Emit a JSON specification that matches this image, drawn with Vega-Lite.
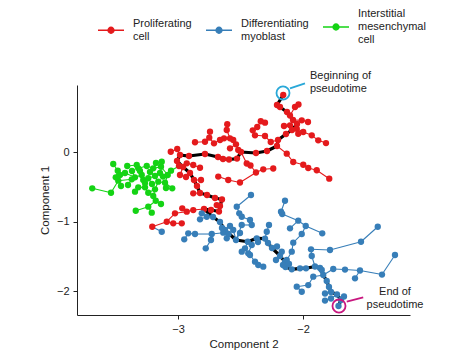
{
  "$schema": "https://vega.github.io/schema/vega-lite/v6.json",
  "width": 333,
  "height": 230,
  "autosize": "none",
  "padding": {"left": 77, "top": 85, "right": 64, "bottom": 49},
  "config": {
    "font": "Liberation Sans",
    "view": {"stroke": null},
    "axis": {"domainColor": "#222", "tickColor": "#222", "labelColor": "#222", "titleColor": "#222", "labelFontSize": 11, "titleFontSize": 11.5, "titleFontWeight": "normal", "grid": false, "tickSize": 4, "labelFont": "Liberation Sans", "titleFont": "Liberation Sans"},
    "axisX": {"labelPadding": 4, "titlePadding": 4},
    "axisY": {"labelPadding": 4, "titlePadding": 6},
    "legend": {"padding": 0}
  },
  "datasets": {
    "cells": [
      {"x":-2.158,"y":0.820,"t":"P"},
      {"x":-2.208,"y":0.676,"x2":-2.158,"y2":0.820,"t":"P"},
      {"x":-2.184,"y":0.647,"x2":-2.208,"y2":0.676,"t":"P"},
      {"x":-2.128,"y":0.576,"x2":-2.184,"y2":0.647,"t":"P"},
      {"x":-2.104,"y":0.525,"x2":-2.128,"y2":0.576,"t":"P"},
      {"x":-2.064,"y":0.647,"x2":-2.104,"y2":0.525,"t":"P"},
      {"x":-2.036,"y":0.683,"x2":-2.064,"y2":0.647,"t":"P"},
      {"x":-2.080,"y":0.460,"x2":-2.104,"y2":0.525,"t":"P"},
      {"x":-2.010,"y":0.456,"x2":-2.080,"y2":0.460,"t":"P"},
      {"x":-1.960,"y":0.432,"x2":-2.010,"y2":0.456,"t":"P"},
      {"x":-2.104,"y":0.384,"x2":-2.080,"y2":0.460,"t":"P"},
      {"x":-2.050,"y":0.335,"x2":-2.104,"y2":0.384,"t":"P"},
      {"x":-1.998,"y":0.288,"x2":-2.050,"y2":0.335,"t":"P"},
      {"x":-2.038,"y":0.263,"x2":-2.050,"y2":0.335,"t":"P"},
      {"x":-1.930,"y":0.240,"x2":-1.998,"y2":0.288,"t":"P"},
      {"x":-1.878,"y":0.168,"x2":-1.930,"y2":0.240,"t":"P"},
      {"x":-1.816,"y":0.129,"x2":-1.878,"y2":0.168,"t":"P"},
      {"x":-2.048,"y":0.403,"x2":-2.080,"y2":0.460,"t":"P"},
      {"x":-2.088,"y":0.317,"x2":-2.048,"y2":0.403,"t":"P"},
      {"x":-2.136,"y":0.259,"x2":-2.088,"y2":0.317,"t":"P"},
      {"x":-2.200,"y":0.173,"x2":-2.136,"y2":0.259,"t":"P"},
      {"x":-2.208,"y":0.086,"x2":-2.200,"y2":0.173,"t":"P"},
      {"x":-2.288,"y":0.014,"x2":-2.208,"y2":0.086,"t":"P"},
      {"x":-2.376,"y":-0.014,"x2":-2.288,"y2":0.014,"t":"P"},
      {"x":-2.496,"y":0.000,"x2":-2.376,"y2":-0.014,"t":"P"},
      {"x":-2.528,"y":-0.094,"x2":-2.496,"y2":0.000,"t":"P"},
      {"x":-2.592,"y":-0.108,"x2":-2.528,"y2":-0.094,"t":"P"},
      {"x":-2.640,"y":-0.101,"x2":-2.592,"y2":-0.108,"t":"P"},
      {"x":-2.680,"y":-0.072,"x2":-2.640,"y2":-0.101,"t":"P"},
      {"x":-2.784,"y":-0.029,"x2":-2.680,"y2":-0.072,"t":"P"},
      {"x":-2.912,"y":-0.058,"x2":-2.784,"y2":-0.029,"t":"P"},
      {"x":-2.984,"y":-0.043,"x2":-2.912,"y2":-0.058,"t":"P"},
      {"x":-3.008,"y":-0.129,"x2":-2.984,"y2":-0.043,"t":"P"},
      {"x":-2.960,"y":-0.216,"x2":-3.008,"y2":-0.129,"t":"P"},
      {"x":-2.904,"y":-0.302,"x2":-2.960,"y2":-0.216,"t":"P"},
      {"x":-2.872,"y":-0.403,"x2":-2.904,"y2":-0.302,"t":"P"},
      {"x":-2.848,"y":-0.489,"x2":-2.872,"y2":-0.403,"t":"P"},
      {"x":-2.824,"y":-0.590,"x2":-2.848,"y2":-0.489,"t":"P"},
      {"x":-2.768,"y":-0.619,"x2":-2.824,"y2":-0.590,"t":"P"},
      {"x":-2.704,"y":-0.662,"x2":-2.768,"y2":-0.619,"t":"P"},
      {"x":-2.648,"y":-0.683,"x2":-2.704,"y2":-0.662,"t":"P"},
      {"x":-2.664,"y":-0.777,"x2":-2.648,"y2":-0.683,"t":"P"},
      {"x":-2.672,"y":-0.856,"x2":-2.664,"y2":-0.777,"t":"P"},
      {"x":-2.736,"y":-0.834,"x2":-2.672,"y2":-0.856,"t":"P"},
      {"x":-2.792,"y":-0.820,"x2":-2.736,"y2":-0.834,"t":"P"},
      {"x":-2.130,"y":-0.024,"x2":-2.208,"y2":0.086,"t":"P"},
      {"x":-2.078,"y":-0.144,"x2":-2.130,"y2":-0.024,"t":"P"},
      {"x":-1.998,"y":-0.183,"x2":-2.078,"y2":-0.144,"t":"P"},
      {"x":-1.958,"y":-0.230,"x2":-1.998,"y2":-0.183,"t":"P"},
      {"x":-1.890,"y":-0.263,"x2":-1.958,"y2":-0.230,"t":"P"},
      {"x":-1.790,"y":-0.384,"x2":-1.890,"y2":-0.263,"t":"P"},
      {"x":-2.258,"y":0.144,"x2":-2.200,"y2":0.173,"t":"P"},
      {"x":-2.304,"y":0.230,"x2":-2.258,"y2":0.144,"t":"P"},
      {"x":-2.384,"y":0.240,"x2":-2.304,"y2":0.230,"t":"P"},
      {"x":-2.402,"y":0.312,"x2":-2.384,"y2":0.240,"t":"P"},
      {"x":-2.366,"y":0.360,"x2":-2.402,"y2":0.312,"t":"P"},
      {"x":-2.338,"y":0.442,"x2":-2.366,"y2":0.360,"t":"P"},
      {"x":-2.304,"y":0.422,"x2":-2.338,"y2":0.442,"t":"P"},
      {"x":-2.152,"y":0.374,"x2":-2.104,"y2":0.384,"t":"P"},
      {"x":-2.450,"y":-0.165,"x2":-2.496,"y2":0.000,"t":"P"},
      {"x":-2.420,"y":-0.194,"x2":-2.450,"y2":-0.165,"t":"P"},
      {"x":-2.376,"y":-0.295,"x2":-2.420,"y2":-0.194,"t":"P"},
      {"x":-2.318,"y":-0.249,"x2":-2.376,"y2":-0.295,"t":"P"},
      {"x":-2.238,"y":-0.237,"x2":-2.318,"y2":-0.249,"t":"P"},
      {"x":-2.504,"y":-0.439,"x2":-2.376,"y2":-0.295,"t":"P"},
      {"x":-2.598,"y":-0.403,"x2":-2.504,"y2":-0.439,"t":"P"},
      {"x":-2.678,"y":-0.353,"x2":-2.598,"y2":-0.403,"t":"P"},
      {"x":-2.518,"y":0.029,"x2":-2.496,"y2":0.000,"t":"P"},
      {"x":-2.536,"y":0.111,"x2":-2.518,"y2":0.029,"t":"P"},
      {"x":-2.558,"y":0.173,"x2":-2.536,"y2":0.111,"t":"P"},
      {"x":-2.584,"y":0.197,"x2":-2.558,"y2":0.173,"t":"P"},
      {"x":-2.610,"y":0.317,"x2":-2.584,"y2":0.197,"t":"P"},
      {"x":-2.606,"y":0.399,"x2":-2.610,"y2":0.317,"t":"P"},
      {"x":-2.632,"y":0.197,"x2":-2.584,"y2":0.197,"t":"P"},
      {"x":-2.664,"y":0.173,"x2":-2.632,"y2":0.197,"t":"P"},
      {"x":-2.712,"y":0.125,"x2":-2.664,"y2":0.173,"t":"P"},
      {"x":-2.750,"y":0.206,"x2":-2.712,"y2":0.125,"t":"P"},
      {"x":-2.744,"y":0.292,"x2":-2.750,"y2":0.206,"t":"P"},
      {"x":-2.784,"y":0.148,"x2":-2.750,"y2":0.206,"t":"P"},
      {"x":-2.864,"y":0.140,"x2":-2.784,"y2":0.148,"t":"P"},
      {"x":-2.584,"y":0.053,"x2":-2.536,"y2":0.111,"t":"P"},
      {"x":-3.006,"y":0.043,"x2":-2.984,"y2":-0.043,"t":"P"},
      {"x":-3.058,"y":0.004,"x2":-3.006,"y2":0.043,"t":"P"},
      {"x":-2.930,"y":-0.163,"x2":-2.960,"y2":-0.216,"t":"P"},
      {"x":-2.878,"y":-0.187,"x2":-2.930,"y2":-0.163,"t":"P"},
      {"x":-2.824,"y":-0.226,"x2":-2.878,"y2":-0.187,"t":"P"},
      {"x":-2.984,"y":-0.331,"x2":-2.960,"y2":-0.216,"t":"P"},
      {"x":-2.936,"y":-0.360,"x2":-2.904,"y2":-0.302,"t":"P"},
      {"x":-2.816,"y":-0.403,"x2":-2.872,"y2":-0.403,"t":"P"},
      {"x":-2.992,"y":-0.201,"x2":-3.008,"y2":-0.129,"t":"P"},
      {"x":-2.878,"y":-0.835,"x2":-2.792,"y2":-0.820,"t":"P"},
      {"x":-2.930,"y":-0.859,"x2":-2.878,"y2":-0.835,"t":"P"},
      {"x":-2.966,"y":-0.810,"x2":-2.930,"y2":-0.859,"t":"P"},
      {"x":-3.024,"y":-0.882,"x2":-2.930,"y2":-0.859,"t":"P"},
      {"x":-3.090,"y":-1.003,"x2":-3.024,"y2":-0.882,"t":"P"},
      {"x":-3.206,"y":-1.075,"x2":-3.090,"y2":-1.003,"t":"P"},
      {"x":-3.038,"y":-1.026,"x2":-3.090,"y2":-1.003,"t":"P"},
      {"x":-2.970,"y":-1.026,"x2":-3.038,"y2":-1.026,"t":"P"},
      {"x":-2.690,"y":-0.763,"x2":-2.664,"y2":-0.777,"t":"P"},
      {"x":-2.878,"y":-0.594,"x2":-2.824,"y2":-0.590,"t":"P"},

      {"x":-3.056,"y":-0.269,"x2":-2.992,"y2":-0.201,"t":"I"},
      {"x":-3.082,"y":-0.331,"x2":-3.056,"y2":-0.269,"t":"I"},
      {"x":-3.136,"y":-0.212,"x2":-3.082,"y2":-0.331,"t":"I"},
      {"x":-3.130,"y":-0.140,"x2":-3.136,"y2":-0.212,"t":"I"},
      {"x":-3.198,"y":-0.235,"x2":-3.136,"y2":-0.212,"t":"I"},
      {"x":-3.250,"y":-0.201,"x2":-3.198,"y2":-0.235,"t":"I"},
      {"x":-3.318,"y":-0.235,"x2":-3.250,"y2":-0.201,"t":"I"},
      {"x":-3.330,"y":-0.187,"x2":-3.318,"y2":-0.235,"t":"I"},
      {"x":-3.406,"y":-0.201,"x2":-3.330,"y2":-0.187,"t":"I"},
      {"x":-3.104,"y":-0.442,"x2":-3.082,"y2":-0.331,"t":"I"},
      {"x":-3.158,"y":-0.427,"x2":-3.104,"y2":-0.442,"t":"I"},
      {"x":-3.184,"y":-0.345,"x2":-3.158,"y2":-0.427,"t":"I"},
      {"x":-3.238,"y":-0.378,"x2":-3.184,"y2":-0.345,"t":"I"},
      {"x":-3.278,"y":-0.403,"x2":-3.238,"y2":-0.378,"t":"I"},
      {"x":-3.290,"y":-0.331,"x2":-3.278,"y2":-0.403,"t":"I"},
      {"x":-3.344,"y":-0.364,"x2":-3.290,"y2":-0.331,"t":"I"},
      {"x":-3.370,"y":-0.393,"x2":-3.344,"y2":-0.364,"t":"I"},
      {"x":-3.478,"y":-0.413,"x2":-3.370,"y2":-0.393,"t":"I"},
      {"x":-3.498,"y":-0.364,"x2":-3.478,"y2":-0.413,"t":"I"},
      {"x":-3.482,"y":-0.269,"x2":-3.498,"y2":-0.364,"t":"I"},
      {"x":-3.518,"y":-0.173,"x2":-3.482,"y2":-0.269,"t":"I"},
      {"x":-3.536,"y":-0.586,"x2":-3.478,"y2":-0.413,"t":"I"},
      {"x":-3.686,"y":-0.522,"x2":-3.536,"y2":-0.586,"t":"I"},
      {"x":-3.046,"y":-0.522,"x2":-3.104,"y2":-0.442,"t":"I"},
      {"x":-3.184,"y":-0.537,"x2":-3.158,"y2":-0.427,"t":"I"},
      {"x":-3.238,"y":-0.586,"x2":-3.184,"y2":-0.537,"t":"I"},
      {"x":-3.264,"y":-0.508,"x2":-3.238,"y2":-0.586,"t":"I"},
      {"x":-3.318,"y":-0.508,"x2":-3.264,"y2":-0.508,"t":"I"},
      {"x":-3.344,"y":-0.571,"x2":-3.318,"y2":-0.508,"t":"I"},
      {"x":-3.198,"y":-0.633,"x2":-3.184,"y2":-0.537,"t":"I"},
      {"x":-3.178,"y":-0.701,"x2":-3.198,"y2":-0.633,"t":"I"},
      {"x":-3.136,"y":-0.748,"x2":-3.178,"y2":-0.701,"t":"I"},
      {"x":-3.238,"y":-0.787,"x2":-3.178,"y2":-0.701,"t":"I"},
      {"x":-3.338,"y":-0.845,"x2":-3.238,"y2":-0.787,"t":"I"},
      {"x":-3.210,"y":-0.873,"x2":-3.238,"y2":-0.787,"t":"I"},
      {"x":-3.424,"y":-0.302,"x2":-3.344,"y2":-0.364,"t":"I"},
      {"x":-3.304,"y":-0.273,"x2":-3.290,"y2":-0.331,"t":"I"},
      {"x":-3.224,"y":-0.288,"x2":-3.184,"y2":-0.345,"t":"I"},
      {"x":-3.144,"y":-0.302,"x2":-3.184,"y2":-0.345,"t":"I"},
      {"x":-3.208,"y":-0.460,"x2":-3.238,"y2":-0.378,"t":"I"},
      {"x":-3.400,"y":-0.475,"x2":-3.370,"y2":-0.393,"t":"I"},
      {"x":-3.120,"y":-0.353,"x2":-3.082,"y2":-0.331,"t":"I"},
      {"x":-3.096,"y":-0.518,"x2":-3.104,"y2":-0.442,"t":"I"},
      {"x":-3.264,"y":-0.446,"x2":-3.278,"y2":-0.403,"t":"I"},
      {"x":-3.456,"y":-0.489,"x2":-3.478,"y2":-0.413,"t":"I"},
      {"x":-3.368,"y":-0.273,"x2":-3.344,"y2":-0.364,"t":"I"},
      {"x":-3.464,"y":-0.331,"x2":-3.498,"y2":-0.364,"t":"I"},
      {"x":-3.176,"y":-0.158,"x2":-3.198,"y2":-0.235,"t":"I"},

      {"x":-2.720,"y":-0.935,"x2":-2.792,"y2":-0.820,"t":"D"},
      {"x":-2.664,"y":-1.007,"x2":-2.720,"y2":-0.935,"t":"D"},
      {"x":-2.624,"y":-1.122,"x2":-2.664,"y2":-1.007,"t":"D"},
      {"x":-2.536,"y":-1.266,"x2":-2.624,"y2":-1.122,"t":"D"},
      {"x":-2.442,"y":-1.291,"x2":-2.536,"y2":-1.266,"t":"D"},
      {"x":-2.370,"y":-1.242,"x2":-2.442,"y2":-1.291,"t":"D"},
      {"x":-2.304,"y":-1.245,"x2":-2.370,"y2":-1.242,"t":"D"},
      {"x":-2.280,"y":-1.309,"x2":-2.304,"y2":-1.245,"t":"D"},
      {"x":-2.248,"y":-1.381,"x2":-2.280,"y2":-1.309,"t":"D"},
      {"x":-2.184,"y":-1.496,"x2":-2.248,"y2":-1.381,"t":"D"},
      {"x":-2.144,"y":-1.578,"x2":-2.184,"y2":-1.496,"t":"D"},
      {"x":-2.140,"y":-1.655,"x2":-2.144,"y2":-1.578,"t":"D"},
      {"x":-2.090,"y":-1.688,"x2":-2.140,"y2":-1.655,"t":"D"},
      {"x":-2.024,"y":-1.673,"x2":-2.090,"y2":-1.688,"t":"D"},
      {"x":-1.976,"y":-1.673,"x2":-2.024,"y2":-1.673,"t":"D"},
      {"x":-1.904,"y":-1.647,"x2":-1.976,"y2":-1.673,"t":"D"},
      {"x":-1.864,"y":-1.669,"x2":-1.904,"y2":-1.647,"t":"D"},
      {"x":-1.838,"y":-1.770,"x2":-1.864,"y2":-1.669,"t":"D"},
      {"x":-1.810,"y":-1.856,"x2":-1.838,"y2":-1.770,"t":"D"},
      {"x":-1.792,"y":-1.942,"x2":-1.810,"y2":-1.856,"t":"D"},
      {"x":-1.776,"y":-2.014,"x2":-1.792,"y2":-1.942,"t":"D"},
      {"x":-1.728,"y":-2.050,"x2":-1.776,"y2":-2.014,"t":"D"},
      {"x":-1.696,"y":-2.129,"x2":-1.728,"y2":-2.050,"t":"D"},
      {"x":-1.716,"y":-2.216,"x2":-1.696,"y2":-2.129,"t":"D"},
      {"x":-2.770,"y":-0.931,"x2":-2.720,"y2":-0.935,"t":"D"},
      {"x":-2.810,"y":-0.882,"x2":-2.770,"y2":-0.931,"t":"D"},
      {"x":-2.824,"y":-0.968,"x2":-2.770,"y2":-0.931,"t":"D"},
      {"x":-2.638,"y":-1.161,"x2":-2.624,"y2":-1.122,"t":"D"},
      {"x":-2.610,"y":-1.242,"x2":-2.624,"y2":-1.122,"t":"D"},
      {"x":-2.730,"y":-1.180,"x2":-2.638,"y2":-1.161,"t":"D"},
      {"x":-2.864,"y":-1.180,"x2":-2.730,"y2":-1.180,"t":"D"},
      {"x":-2.918,"y":-1.170,"x2":-2.864,"y2":-1.180,"t":"D"},
      {"x":-2.950,"y":-1.256,"x2":-2.918,"y2":-1.170,"t":"D"},
      {"x":-2.736,"y":-1.266,"x2":-2.730,"y2":-1.180,"t":"D"},
      {"x":-2.778,"y":-1.386,"x2":-2.736,"y2":-1.266,"t":"D"},
      {"x":-3.130,"y":-1.147,"x2":-3.206,"y2":-1.075,"t":"D"},
      {"x":-2.558,"y":-1.122,"x2":-2.536,"y2":-1.266,"t":"D"},
      {"x":-2.490,"y":-1.050,"x2":-2.536,"y2":-1.266,"t":"D"},
      {"x":-2.410,"y":-1.050,"x2":-2.490,"y2":-1.050,"t":"D"},
      {"x":-2.424,"y":-0.978,"x2":-2.410,"y2":-1.050,"t":"D"},
      {"x":-2.490,"y":-0.931,"x2":-2.424,"y2":-0.978,"t":"D"},
      {"x":-2.510,"y":-0.882,"x2":-2.490,"y2":-0.931,"t":"D"},
      {"x":-2.530,"y":-0.787,"x2":-2.510,"y2":-0.882,"t":"D"},
      {"x":-2.416,"y":-0.619,"x2":-2.530,"y2":-0.787,"t":"D"},
      {"x":-2.464,"y":-1.386,"x2":-2.442,"y2":-1.291,"t":"D"},
      {"x":-2.410,"y":-1.338,"x2":-2.442,"y2":-1.291,"t":"D"},
      {"x":-2.438,"y":-1.458,"x2":-2.410,"y2":-1.338,"t":"D"},
      {"x":-2.490,"y":-1.434,"x2":-2.464,"y2":-1.386,"t":"D"},
      {"x":-2.424,"y":-1.482,"x2":-2.464,"y2":-1.386,"t":"D"},
      {"x":-2.384,"y":-1.578,"x2":-2.424,"y2":-1.482,"t":"D"},
      {"x":-2.358,"y":-1.626,"x2":-2.384,"y2":-1.578,"t":"D"},
      {"x":-2.318,"y":-1.650,"x2":-2.358,"y2":-1.626,"t":"D"},
      {"x":-2.290,"y":-1.147,"x2":-2.304,"y2":-1.245,"t":"D"},
      {"x":-2.272,"y":-1.050,"x2":-2.290,"y2":-1.147,"t":"D"},
      {"x":-2.208,"y":-1.360,"x2":-2.248,"y2":-1.381,"t":"D"},
      {"x":-2.216,"y":-1.554,"x2":-2.184,"y2":-1.496,"t":"D"},
      {"x":-2.170,"y":-1.434,"x2":-2.184,"y2":-1.496,"t":"D"},
      {"x":-2.130,"y":-1.554,"x2":-2.144,"y2":-1.578,"t":"D"},
      {"x":-2.090,"y":-1.434,"x2":-2.130,"y2":-1.554,"t":"D"},
      {"x":-2.078,"y":-1.305,"x2":-2.090,"y2":-1.434,"t":"D"},
      {"x":-2.010,"y":-1.180,"x2":-2.078,"y2":-1.305,"t":"D"},
      {"x":-1.978,"y":-1.065,"x2":-2.010,"y2":-1.180,"t":"D"},
      {"x":-2.038,"y":-0.988,"x2":-1.978,"y2":-1.065,"t":"D"},
      {"x":-1.846,"y":-1.170,"x2":-1.978,"y2":-1.065,"t":"D"},
      {"x":-2.104,"y":-1.098,"x2":-2.038,"y2":-0.988,"t":"D"},
      {"x":-2.166,"y":-0.892,"x2":-2.038,"y2":-0.988,"t":"D"},
      {"x":-2.176,"y":-0.859,"x2":-2.166,"y2":-0.892,"t":"D"},
      {"x":-2.144,"y":-0.701,"x2":-2.176,"y2":-0.859,"t":"D"},
      {"x":-1.930,"y":-1.496,"x2":-1.904,"y2":-1.647,"t":"D"},
      {"x":-1.936,"y":-1.400,"x2":-1.930,"y2":-1.496,"t":"D"},
      {"x":-1.784,"y":-1.410,"x2":-1.936,"y2":-1.400,"t":"D"},
      {"x":-1.536,"y":-1.291,"x2":-1.784,"y2":-1.410,"t":"D"},
      {"x":-1.402,"y":-1.075,"x2":-1.536,"y2":-1.291,"t":"D"},
      {"x":-1.758,"y":-1.683,"x2":-1.838,"y2":-1.770,"t":"D"},
      {"x":-1.664,"y":-1.691,"x2":-1.758,"y2":-1.683,"t":"D"},
      {"x":-1.544,"y":-1.705,"x2":-1.664,"y2":-1.691,"t":"D"},
      {"x":-1.368,"y":-1.763,"x2":-1.544,"y2":-1.705,"t":"D"},
      {"x":-1.264,"y":-1.482,"x2":-1.368,"y2":-1.763,"t":"D"},
      {"x":-1.584,"y":-1.817,"x2":-1.544,"y2":-1.705,"t":"D"},
      {"x":-1.918,"y":-1.794,"x2":-1.838,"y2":-1.770,"t":"D"},
      {"x":-1.958,"y":-1.914,"x2":-1.918,"y2":-1.794,"t":"D"},
      {"x":-2.050,"y":-1.938,"x2":-1.958,"y2":-1.914,"t":"D"},
      {"x":-2.010,"y":-2.010,"x2":-2.050,"y2":-1.938,"t":"D"},
      {"x":-1.824,"y":-2.036,"x2":-1.776,"y2":-2.014,"t":"D"},
      {"x":-1.776,"y":-2.108,"x2":-1.728,"y2":-2.050,"t":"D"},
      {"x":-1.824,"y":-2.137,"x2":-1.776,"y2":-2.108,"t":"D"},
      {"x":-1.672,"y":-2.079,"x2":-1.696,"y2":-2.129,"t":"D"},
      {"x":-2.648,"y":-1.093,"x2":-2.664,"y2":-1.007,"t":"D"},
      {"x":-2.596,"y":-1.180,"x2":-2.624,"y2":-1.122,"t":"D"},
      {"x":-2.160,"y":-1.626,"x2":-2.144,"y2":-1.578,"t":"D"},
      {"x":-2.112,"y":-1.611,"x2":-2.140,"y2":-1.655,"t":"D"},
      {"x":-1.850,"y":-1.698,"x2":-1.864,"y2":-1.669,"t":"D"},
      {"x":-2.504,"y":-1.165,"x2":-2.536,"y2":-1.266,"t":"D"},
      {"x":-2.584,"y":-1.065,"x2":-2.624,"y2":-1.122,"t":"D"},
      {"x":-2.360,"y":-1.295,"x2":-2.370,"y2":-1.242,"t":"D"}
    ],
    "backbone": [
      {"o":1,"x":-2.158,"y":0.820},{"o":2,"x":-2.208,"y":0.676},{"o":3,"x":-2.128,"y":0.576},{"o":4,"x":-2.104,"y":0.525},
      {"o":5,"x":-2.080,"y":0.460},{"o":6,"x":-2.048,"y":0.403},{"o":7,"x":-2.088,"y":0.317},{"o":8,"x":-2.136,"y":0.259},
      {"o":9,"x":-2.200,"y":0.173},{"o":10,"x":-2.208,"y":0.086},{"o":11,"x":-2.288,"y":0.014},{"o":12,"x":-2.376,"y":-0.014},
      {"o":13,"x":-2.496,"y":0.000},{"o":14,"x":-2.528,"y":-0.094},{"o":15,"x":-2.592,"y":-0.108},{"o":16,"x":-2.640,"y":-0.101},
      {"o":17,"x":-2.680,"y":-0.072},{"o":18,"x":-2.784,"y":-0.029},{"o":19,"x":-2.912,"y":-0.058},{"o":20,"x":-2.984,"y":-0.043},
      {"o":21,"x":-3.008,"y":-0.129},{"o":22,"x":-2.960,"y":-0.216},{"o":23,"x":-2.904,"y":-0.302},{"o":24,"x":-2.872,"y":-0.403},
      {"o":25,"x":-2.848,"y":-0.489},{"o":26,"x":-2.824,"y":-0.590},{"o":27,"x":-2.768,"y":-0.619},{"o":28,"x":-2.704,"y":-0.662},
      {"o":29,"x":-2.648,"y":-0.683},{"o":30,"x":-2.664,"y":-0.777},{"o":31,"x":-2.672,"y":-0.856},{"o":32,"x":-2.736,"y":-0.834},
      {"o":33,"x":-2.792,"y":-0.820},{"o":34,"x":-2.720,"y":-0.935},{"o":35,"x":-2.664,"y":-1.007},{"o":36,"x":-2.624,"y":-1.122},
      {"o":37,"x":-2.536,"y":-1.266},{"o":38,"x":-2.442,"y":-1.291},{"o":39,"x":-2.370,"y":-1.242},{"o":40,"x":-2.304,"y":-1.245},
      {"o":41,"x":-2.280,"y":-1.309},{"o":42,"x":-2.248,"y":-1.381},{"o":43,"x":-2.184,"y":-1.496},{"o":44,"x":-2.144,"y":-1.578},
      {"o":45,"x":-2.140,"y":-1.655},{"o":46,"x":-2.090,"y":-1.688},{"o":47,"x":-2.024,"y":-1.673},{"o":48,"x":-1.976,"y":-1.673},
      {"o":49,"x":-1.904,"y":-1.647},{"o":50,"x":-1.864,"y":-1.669},{"o":51,"x":-1.838,"y":-1.770},{"o":52,"x":-1.810,"y":-1.856},
      {"o":53,"x":-1.792,"y":-1.942},{"o":54,"x":-1.776,"y":-2.014},{"o":55,"x":-1.728,"y":-2.050},{"o":56,"x":-1.696,"y":-2.129},
      {"o":57,"x":-1.716,"y":-2.216}
    ],
    "notes": [
      {"k":"circle","who":"begin","x":-2.160,"y":0.849},
      {"k":"circle","who":"end","x":-1.712,"y":-2.216},
      {"k":"line","who":"begin","x":-2.104,"y":0.914,"x2":-1.984,"y2":0.988},
      {"k":"line","who":"end","x":-1.650,"y":-2.154,"x2":-1.518,"y2":-2.091},
      {"k":"text","who":"begin","x":-1.944,"y":1.094,"label":["Beginning of","pseudotime"]},
      {"k":"text","who":"end","x":-1.264,"y":-2.014,"label":["End of","pseudotime"]}
    ]
  },
  "encoding": {
    "x": {"field": "x", "type": "quantitative", "title": "Component 2", "scale": {"domain": [-3.808, -1.144], "nice": false, "zero": false}, "axis": {"values": [-3, -2]}},
    "y": {"field": "y", "type": "quantitative", "title": "Component 1", "scale": {"domain": [-2.345, 0.964], "nice": false, "zero": false}, "axis": {"values": [-2, -1, 0]}}
  },
  "layer": [
    {
      "data": {"name": "cells"},
      "transform": [{"filter": "isValid(datum.x2)"}],
      "mark": {"type": "rule", "strokeWidth": 1.1},
      "encoding": {
        "x2": {"field": "x2"},
        "y2": {"field": "y2"},
        "color": {"field": "t", "type": "nominal", "scale": {"domain": ["P", "D", "I"], "range": ["#e41a1c", "#377eb8", "#14d314"]},
          "legend": {"title": null, "orient": "none", "direction": "horizontal", "legendX": 20, "legendY": -72, "padding": 0,
            "symbolType": "M-1,0L1,0M0.23,0A0.23,0.23,0,1,1,-0.23,0A0.23,0.23,0,1,1,0.23,0Z",
            "symbolSize": 676, "symbolStrokeWidth": 1.3, "symbolOpacity": 1,
            "labelFontSize": 11, "labelFont": "Liberation Sans", "labelColor": "#222", "labelOffset": 8, "columnPadding": 11,
            "labelExpr": "datum.label == 'P' ? ['Proliferating', 'cell'] : datum.label == 'D' ? ['Differentiating', 'myoblast'] : ['Interstitial', 'mesenchymal', 'cell']",
            "encode": {
              "symbols": {"update": {"stroke": {"scale": "color", "field": "value"}, "fill": {"scale": "color", "field": "value"}}},
              "labels": {"update": {"dy": {"signal": "datum.label == 'I' ? -13 : -6.5"}}}
            }
          }
        }
      }
    },
    {
      "data": {"name": "backbone"},
      "mark": {"type": "line", "color": "#000000", "strokeWidth": 3.2, "strokeCap": "round", "strokeJoin": "round"},
      "encoding": {"order": {"field": "o", "type": "quantitative"}}
    },
    {
      "data": {"name": "cells"},
      "mark": {"type": "point", "shape": "circle", "filled": true, "opacity": 1, "size": 40},
      "encoding": {
        "color": {"field": "t", "type": "nominal", "scale": {"domain": ["P", "D", "I"], "range": ["#e41a1c", "#377eb8", "#14d314"]},
          "legend": {"title": null, "orient": "none", "direction": "horizontal", "legendX": 20, "legendY": -72, "padding": 0,
            "symbolType": "M-1,0L1,0M0.23,0A0.23,0.23,0,1,1,-0.23,0A0.23,0.23,0,1,1,0.23,0Z",
            "symbolSize": 676, "symbolStrokeWidth": 1.3, "symbolOpacity": 1,
            "labelFontSize": 11, "labelFont": "Liberation Sans", "labelColor": "#222", "labelOffset": 8, "columnPadding": 11,
            "labelExpr": "datum.label == 'P' ? ['Proliferating', 'cell'] : datum.label == 'D' ? ['Differentiating', 'myoblast'] : ['Interstitial', 'mesenchymal', 'cell']",
            "encode": {
              "symbols": {"update": {"stroke": {"scale": "color", "field": "value"}, "fill": {"scale": "color", "field": "value"}}},
              "labels": {"update": {"dy": {"signal": "datum.label == 'I' ? -13 : -6.5"}}}
            }
          }
        }
      }
    },
    {
      "data": {"name": "notes"},
      "transform": [{"filter": "datum.k == 'circle'"}],
      "mark": {"type": "point", "shape": "circle", "filled": false, "size": 170, "strokeWidth": 1.8, "opacity": 1},
      "encoding": {"stroke": {"field": "who", "type": "nominal", "scale": {"domain": ["begin", "end"], "range": ["#29a8d8", "#c8177f"]}, "legend": null}}
    },
    {
      "data": {"name": "notes"},
      "transform": [{"filter": "datum.k == 'line'"}],
      "mark": {"type": "rule", "strokeWidth": 1.8},
      "encoding": {
        "x2": {"field": "x2"},
        "y2": {"field": "y2"},
        "stroke": {"field": "who", "type": "nominal", "scale": {"domain": ["begin", "end"], "range": ["#29a8d8", "#c8177f"]}, "legend": null}
      }
    },
    {
      "data": {"name": "notes"},
      "transform": [{"filter": "datum.k == 'text' && datum.who == 'begin'"}],
      "mark": {"type": "text", "align": "left", "baseline": "middle", "fontSize": 11, "color": "#222", "font": "Liberation Sans"},
      "encoding": {"text": {"field": "label"}}
    },
    {
      "data": {"name": "notes"},
      "transform": [{"filter": "datum.k == 'text' && datum.who == 'end'"}],
      "mark": {"type": "text", "align": "center", "baseline": "middle", "fontSize": 11, "color": "#222", "font": "Liberation Sans"},
      "encoding": {"text": {"field": "label"}}
    }
  ]
}
